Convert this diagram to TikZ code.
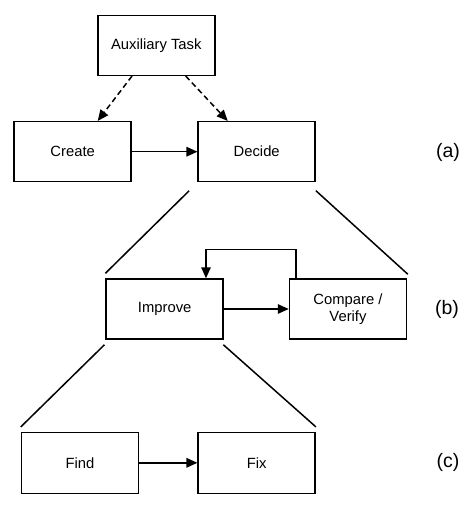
\documentclass[tikz,border=0pt]{standalone}
\usepackage{fontspec}
\setmainfont{Liberation Sans}
\usetikzlibrary{arrows.meta,calc}
\begin{document}
\begin{tikzpicture}[x=1pt,y=-1pt,
  box/.style={draw,line width=1.5pt,minimum width=117pt,minimum height=60pt,inner sep=0pt,align=center,font=\fontsize{14.8}{17.5}\selectfont},
  lbl/.style={font=\fontsize{19.5}{22}\selectfont},
  arr/.style={line width=1.5pt,-{Triangle[length=11pt,width=9.5pt]}},
  dasharr/.style={arr,dash pattern=on 5.5pt off 3.5pt},
  zoomline/.style={line width=1.5pt}]
\useasboundingbox (0,0) rectangle (474,507);
\node[box] (aux) at (156.3,45.3) {Auxiliary Task};
\node[box] (create) at (72.7,151.7) {Create};
\node[box] (decide) at (256.7,151.7) {Decide};
\node[lbl] (la) at (448,152) {(a)};
\node[box] (improve) at (164.7,309) {Improve};
\node[box] (compare) at (348,309) {Compare /\\Verify};
\node[lbl] (lb) at (447,309) {(b)};
\node[box,minimum height=61pt] (find) at (80,462.8) {Find};
\node[box,minimum height=61pt] (fix) at (256.7,462.8) {Fix};
\node[lbl] (lc) at (448,462) {(c)};
% dashed arrows
\draw[dasharr] ($(aux.south)+(-24.3,0)$) -- ($(create.north)+(25,0)$);
\draw[dasharr] ($(aux.south)+(29.4,0)$) -- ($(decide.north)+(-29,0)$);
% solid arrows
\draw[arr] (create) -- (decide);
\draw[arr] (improve) -- (compare);
\draw[arr] (find) -- (fix);
% feedback loop
\draw[arr] ($(compare.north west)+(7,0)$) |- (206,249.3) -- ($(improve.north)+(41.3,0)$);
% zoom lines
\draw[zoomline] ($(decide.south west)+(-8.3,8.3)$) -- ($(improve.north west)+(0,-5)$);
\draw[zoomline] ($(decide.south east)+(0,8.3)$) -- ($(compare.north east)+(0.6,-4)$);
\draw[zoomline] ($(improve.south west)+(-1,5)$) -- ($(find.north west)+(0,-4.6)$);
\draw[zoomline] ($(improve.south east)+(-0.6,5)$) -- ($(fix.north east)+(0,-4.6)$);
\end{tikzpicture}
\end{document}
